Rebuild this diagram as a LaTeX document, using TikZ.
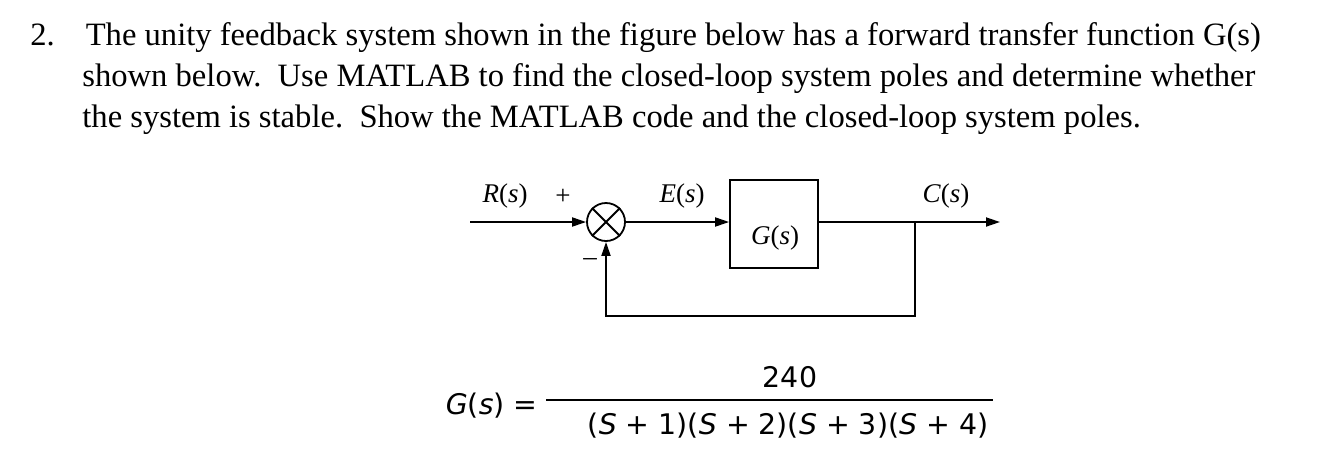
\documentclass[tikz,border=0pt]{standalone}
\usepackage{fontspec}
\setmainfont{Liberation Serif}
\newfontfamily\eqfont{DejaVu Sans}
\usetikzlibrary{arrows.meta}
\begin{document}
\begin{tikzpicture}[x=0.5pt,y=-0.5pt,
  ln/.style={line width=0.9pt},
  arr/.style={ln,-{Triangle[length=7pt,width=4.5pt]}},
  txt/.style={anchor=base west,inner sep=0,font=\fontsize{16.3}{20}\selectfont},
  lab/.style={inner sep=0,font=\fontsize{13.5}{15}\selectfont},
  eq/.style={inner sep=0,font=\eqfont\fontsize{14.2}{16}\selectfont}]
\useasboundingbox (0,0) rectangle (1342,472);
\node[txt] (l1) at (30,45) {2.\hspace{0.95em}The unity feedback system shown in the figure below has a forward transfer function G(s)};
\node[txt] (l2) at (82,86) {shown below.\ \ Use MATLAB to find the closed-loop system poles and determine whether};
\node[txt] (l3) at (82,127) {the system is stable.\ \ Show the MATLAB code and the closed-loop system poles.};
% block diagram
\coordinate (in) at (470,222);
\node[draw,ln,circle,minimum size=19pt,inner sep=0] (sum) at (606,222) {};
\draw[ln] (sum.45) -- (sum.225) (sum.135) -- (sum.315);
\node[draw,ln,minimum width=44pt,minimum height=44pt,inner sep=0] (G) at (774,224) {};
\node[lab] (Gl) at (775,238) {\textit{G}(\textit{s})};
\coordinate (out) at (1000,222);
\coordinate (br) at (915,222);
\coordinate (fb1) at (915,316);
\coordinate (fb2) at (606,316);
\draw[arr] (in) -- (sum.west);
\draw[arr] (sum.east) -- (G.west |- sum.east);
\draw[arr] (G.east |- out) -- (out);
\draw[arr] (br) -- (fb1) -- (fb2) -- (sum.south);
\node[lab] (R) at (505,196) {\textit{R}(\textit{s})};
\node[lab] (p) at (563,197) {+};
\node[lab] (E) at (682,196) {\textit{E}(\textit{s})};
\node[lab] (C) at (946,196) {\textit{C}(\textit{s})};
\node[lab] (m) at (590,262) {\textendash};
% equation
\node[eq,anchor=east] (lhs) at (538,406) {\itshape G\upshape(\itshape s\upshape) =};
\draw[line width=0.7pt] (546,400) -- (993,400);
\node[eq] (num) at (790,377) {240};
\node[eq] (den) at (788,426) {(\itshape S\upshape{} + 1)(\itshape S\upshape{} + 2)(\itshape S\upshape{} + 3)(\itshape S\upshape{} + 4)};
\end{tikzpicture}
\end{document}
